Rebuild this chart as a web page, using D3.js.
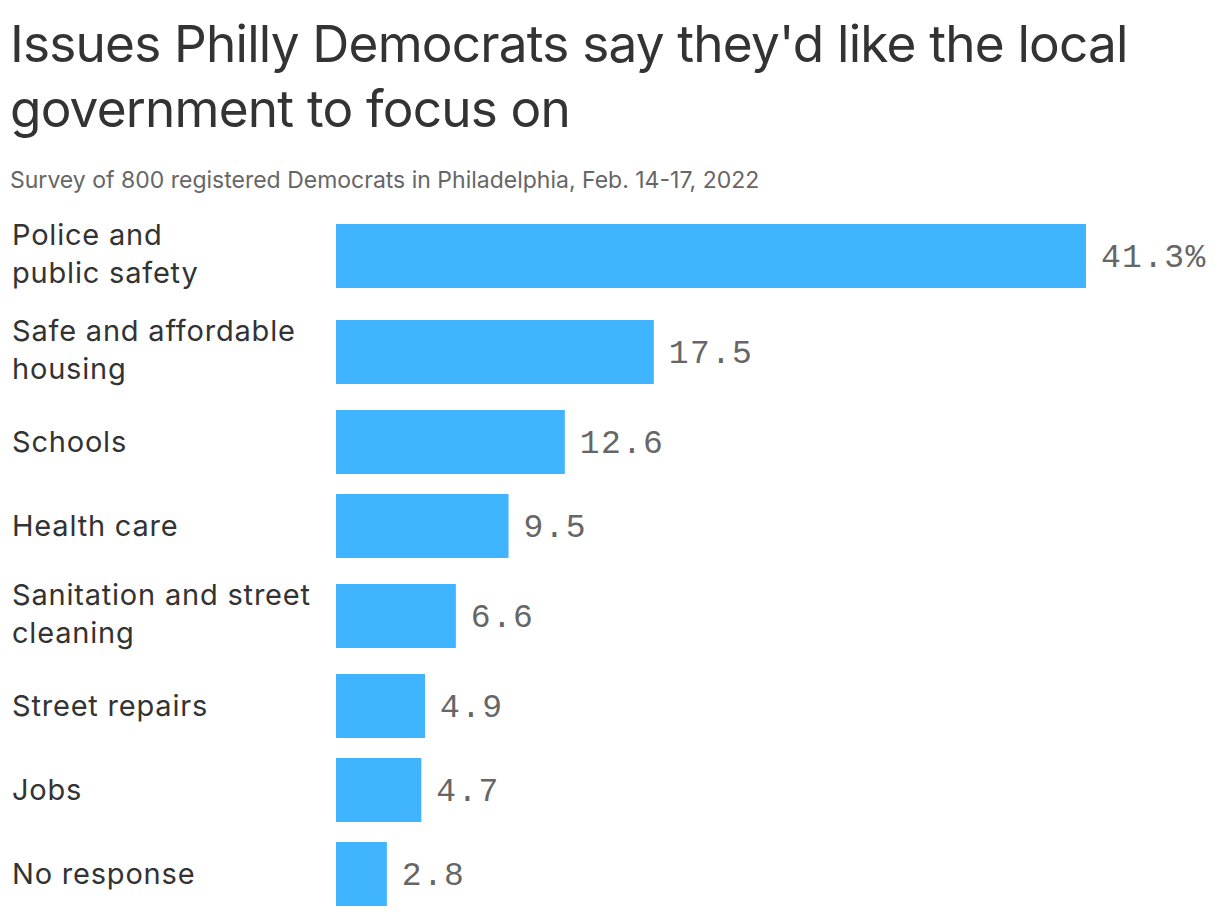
<!DOCTYPE html>
<html>
<head>
<meta charset="utf-8">
<script src="https://cdn.jsdelivr.net/npm/d3@7"></script>
<style>
  body { margin: 0; background: #fff; }
  svg { display: block; }
</style>
</head>
<body>
<div class="svg-target"></div>
<script>
const w = 1220;
const h = 916;

const titleLines = ["Issues Philly Democrats say they'd like the local", "government to focus on"];
const subtitle = 'Survey of 800 registered Democrats in Philadelphia, Feb. 14-17, 2022';

const categories = [
    ['Police and', 'public safety'],
    ['Safe and affordable', 'housing'],
    ['Schools'],
    ['Health care'],
    ['Sanitation and street', 'cleaning'],
    ['Street repairs'],
    ['Jobs'],
    ['No response']
];
const values = [41.3, 17.5, 12.6, 9.5, 6.6, 4.9, 4.7, 2.8];

const data = categories.map((c, i) => ({ key: c.join(' '), lines: c, value: values[i] }));

const rowTop = 208;
const lineH = 38;
const barH = 64;

drawGraph = () => {
    const svg = d3.select('.svg-target')
        .html('')
        .append('svg')
        .attr('width', w)
        .attr('height', h);

    // title + subtitle
    svg.append('g').selectAll('text')
        .data(titleLines)
        .enter()
        .append('text')
            .attr('x', 10)
            .attr('y', (d, i) => 62 + i * 65)
            .attr('font-family', 'Inter, sans-serif')
            .attr('font-size', 51.3)
            .attr('letter-spacing', -0.8)
            .attr('fill', '#333')
            .text(d => d);

    svg.append('text')
        .attr('x', 10)
        .attr('y', 188)
        .attr('font-family', 'Inter, sans-serif')
        .attr('font-size', 23)
        .attr('fill', '#666')
        .text(subtitle);

    // row layout: taller rows for two-line labels
    const rowH = data.map(d => d.lines.length > 1 ? 96 : 84);
    const starts = [0, ...d3.cumsum(rowH)].slice(0, data.length);
    const yScale = d3.scaleOrdinal()
        .domain(data.map(d => d.key))
        .range(starts.map((s, i) => rowTop + s + rowH[i] / 2));

    const xScale = d3.scaleLinear()
        .domain([0, d3.max(values)])
        .range([336, 1086]);

    const rows = svg.append('g').selectAll('g')
        .data(data)
        .enter()
        .append('g');

    rows.append('rect')
        .attr('x', xScale(0))
        .attr('y', d => yScale(d.key) - barH / 2)
        .attr('width', d => xScale(d.value) - xScale(0))
        .attr('height', barH)
        .attr('fill', '#40b4ff');

    rows.append('text')
        .attr('x', d => xScale(d.value) + 15)
        .attr('y', d => yScale(d.key) + 11)
        .attr('font-family', '"Liberation Mono", monospace')
        .attr('font-size', 33)
        .attr('letter-spacing', 1.3)
        .attr('fill', '#666')
        .text((d, i) => i === 0 ? d.value.toFixed(1) + '%' : d.value.toFixed(1));

    rows.append('text')
        .attr('font-family', 'Inter, sans-serif')
        .attr('font-size', 29)
        .attr('letter-spacing', 0.8)
        .attr('fill', '#333')
        .selectAll('tspan')
        .data(d => d.lines.map((l, i) => ({ l, i, n: d.lines.length, key: d.key })))
        .enter()
        .append('tspan')
            .attr('x', 12)
            .attr('y', d => yScale(d.key) + 10 + (d.i - (d.n - 1) / 2) * lineH - (d.n > 1 ? 2 : 0))
            .text(d => d.l);
};

drawGraph();
</script>
</body>
</html>
